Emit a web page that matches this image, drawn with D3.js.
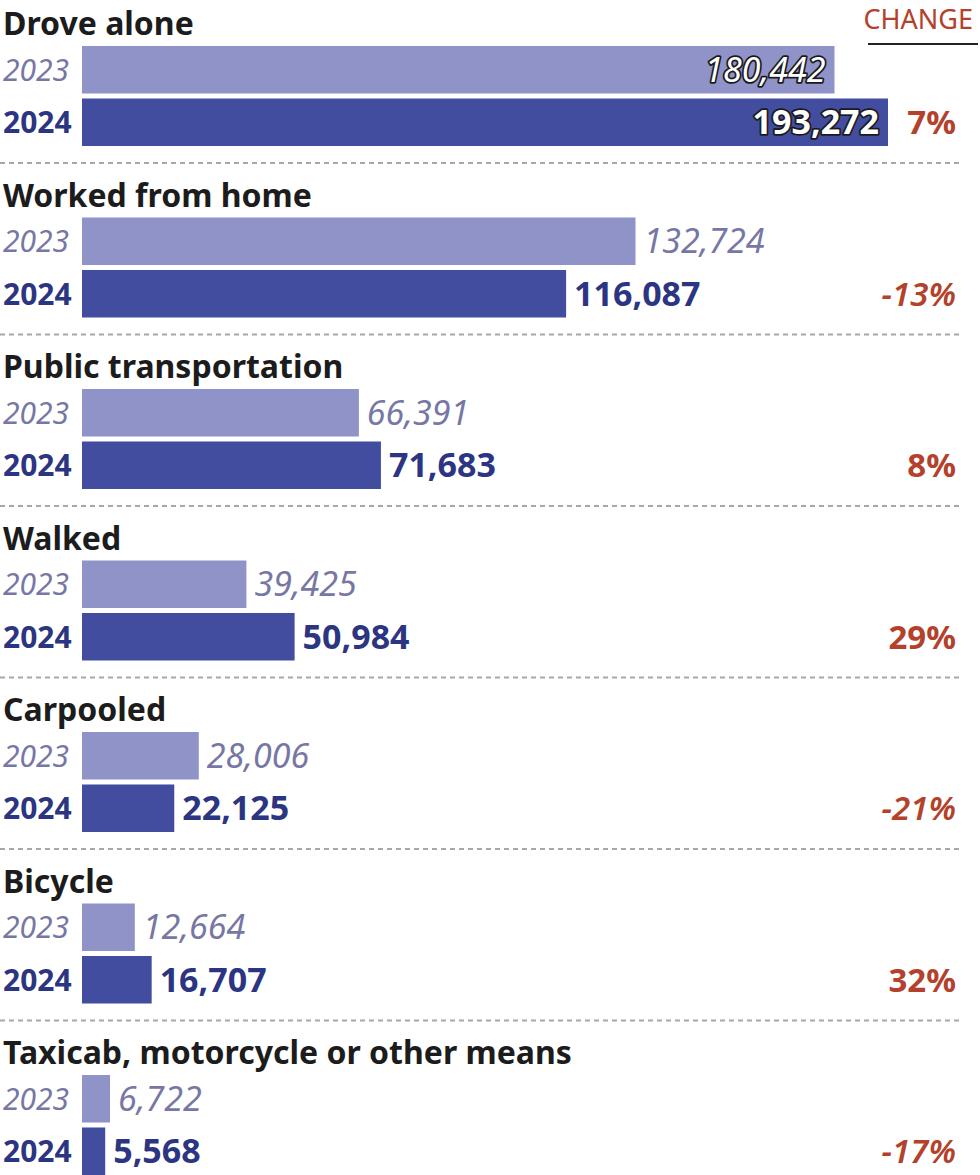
<!DOCTYPE html>
<html>
<head>
<meta charset="utf-8">
<script src="https://cdn.jsdelivr.net/npm/d3@7"></script>
<style>
  body { margin: 0; background: #fff; }
  svg { display: block; font-family: "Noto Sans", sans-serif; }
</style>
</head>
<body>
<svg id="chart" width="980" height="1175"></svg>
<script>
// commute modes, 2023 vs 2024
var categories = ["Drove alone", "Worked from home", "Public transportation", "Walked", "Carpooled", "Bicycle", "Taxicab, motorcycle or other means"];
var years = ["2023", "2024"];
var values2023 = [180442, 132724, 66391, 39425, 28006, 12664, 6722];
var values2024 = [193272, 116087, 71683, 50984, 22125, 16707, 5568];
var changes = ["7%", "-13%", "8%", "29%", "-21%", "32%", "-17%"];

var W = 980, H = 1175,
    groupStep = 171.5;

var svg = d3.select("#chart");

var x = d3.scaleLinear().domain([0, 193272]).range([82, 888]);
var yGroup = d3.scaleBand().domain(categories).range([0, groupStep * categories.length]);
var yYear = d3.scaleBand().domain(years).range([46, 146]).paddingInner(0.095);

var barColor = {"2023": "#8f93c8", "2024": "#434d9f"};
var textColor = {"2023": "#7777a5", "2024": "#2c3581"};

var rows = categories.map(function(c, i) {
  return {cat: c, i: i, vals: [values2023[i], values2024[i]], change: changes[i]};
});

// header
svg.append("text").attr("x", 973).attr("y", 29).attr("text-anchor", "end")
  .style("font-size", "27px").style("fill", "#b3412b").text("CHANGE");
svg.append("line").attr("x1", 868).attr("x2", 978).attr("y1", 44).attr("y2", 44)
  .style("stroke", "#222").style("stroke-width", 2);

var groups = svg.selectAll(".grp").data(rows).enter().append("g")
  .attr("class", "grp")
  .attr("transform", function(d) { return "translate(0," + yGroup(d.cat) + ")"; });

groups.append("text").attr("x", 3).attr("y", 35)
  .style("font-size", "32px").style("font-weight", "bold").style("fill", "#1c1c1c")
  .text(function(d) { return d.cat; });

groups.filter(function(d) { return d.i < categories.length - 1; })
  .append("line").attr("x1", 0).attr("x2", 963).attr("y1", 163).attr("y2", 163)
  .style("stroke", "#a8a8a8").style("stroke-width", 2).style("stroke-dasharray", "5,4");

var bars = groups.selectAll(".yr").data(function(d) {
  return years.map(function(yr, j) { return {yr: yr, v: d.vals[j], inside: d.i === 0}; });
}).enter().append("g").attr("class", "yr");

bars.append("text").attr("x", 3)
  .attr("y", function(d) { return yYear(d.yr) + yYear.bandwidth() / 2 + 11; })
  .style("font-size", "30px")
  .style("font-style", function(d) { return d.yr === "2023" ? "italic" : "normal"; })
  .style("font-weight", function(d) { return d.yr === "2023" ? "normal" : "bold"; })
  .style("fill", function(d) { return textColor[d.yr]; })
  .text(function(d) { return d.yr; });

bars.append("rect")
  .attr("x", x(0))
  .attr("y", function(d) { return yYear(d.yr); })
  .attr("width", function(d) { return x(d.v) - x(0); })
  .attr("height", yYear.bandwidth())
  .style("fill", function(d) { return barColor[d.yr]; });

bars.append("text")
  .attr("x", function(d) { return d.inside ? x(d.v) - 9 : x(d.v) + 8; })
  .attr("y", function(d) { return yYear(d.yr) + yYear.bandwidth() / 2 + 12; })
  .attr("text-anchor", function(d) { return d.inside ? "end" : "start"; })
  .style("font-size", "34px")
  .style("font-style", function(d) { return d.yr === "2023" ? "italic" : "normal"; })
  .style("font-weight", function(d) { return d.yr === "2023" ? "normal" : "bold"; })
  .style("fill", function(d) { return d.inside ? "#fff" : textColor[d.yr]; })
  .style("stroke", function(d) { return d.inside ? "#1a1a1a" : "none"; })
  .style("stroke-width", 3.5)
  .style("paint-order", "stroke")
  .style("stroke-linejoin", "round")
  .text(function(d) { return d3.format(",")(d.v); });

groups.append("text").attr("x", 956)
  .attr("y", yYear("2024") + yYear.bandwidth() / 2 + 12)
  .attr("text-anchor", "end")
  .style("font-size", "33px")
  .style("font-weight", function(d) { return d.change[0] === "-" ? 600 : "bold"; })
  .style("font-style", function(d) { return d.change[0] === "-" ? "italic" : "normal"; })
  .style("fill", "#b3412b")
  .text(function(d) { return d.change; });
</script>
</body>
</html>
